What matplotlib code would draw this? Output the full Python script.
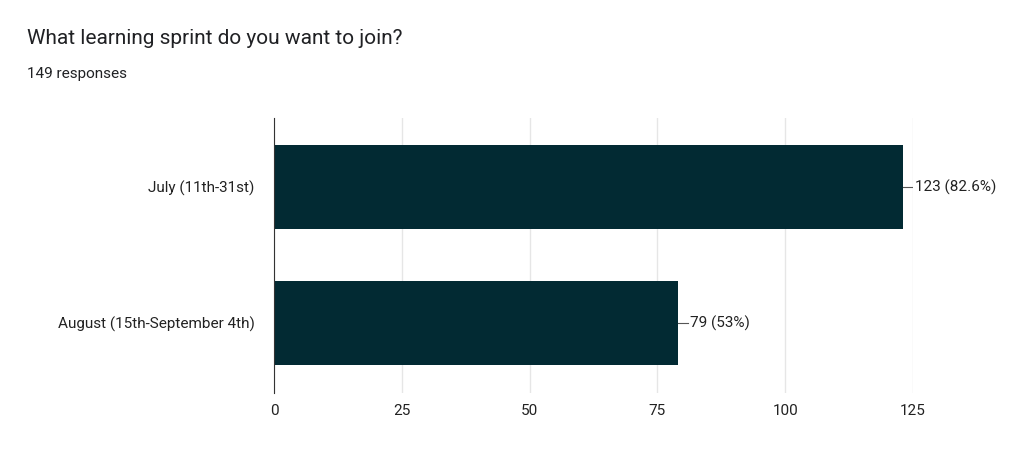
import matplotlib.pyplot as plt

categories = ['July (11th-31st)', 'August (15th-September 4th)']
counts = [123, 79]
labels = ['123 (82.6%)', '79 (53%)']

plt.rcParams['font.family'] = ['Roboto', 'DejaVu Sans']
fig = plt.figure(figsize=(10.24, 4.61), dpi=100)
ax = fig.add_axes([274/1024, 68/461, 639/1024, 275/461])

y = list(range(len(categories)))
ax.barh(y, counts, height=0.62, color='#022a33', zorder=2)
for yi, c, lab in zip(y, counts, labels):
    ax.plot([c, c + 2], [yi, yi], color='#555555', lw=0.8, zorder=3)
    ax.text(c + 2.3, yi, lab, va='center', ha='left', fontsize=11, color='#222222')

ax.set_xlim(0, 125)
ax.set_ylim(1.515, -0.507)
ax.set_xticks([0, 25, 50, 75, 100, 125])
ax.set_yticks(y)
ax.set_yticklabels(categories, fontsize=11, color='#222222')
ax.tick_params(axis='x', labelsize=11, colors='#222222', length=0, pad=8)
ax.tick_params(axis='y', length=0, pad=14)
ax.grid(axis='x', color='#e6e6e6', lw=1, zorder=0)
for s in ['top', 'right', 'bottom']:
    ax.spines[s].set_visible(False)
ax.spines['left'].set_color('#333333')

fig.text(27/1024, 1 - 38/461, 'What learning sprint do you want to join?', fontsize=15, va='center', color='#202124')
fig.text(27/1024, 1 - 74/461, '149 responses', fontsize=11, va='center', color='#202124')

fig.savefig('out.png')
